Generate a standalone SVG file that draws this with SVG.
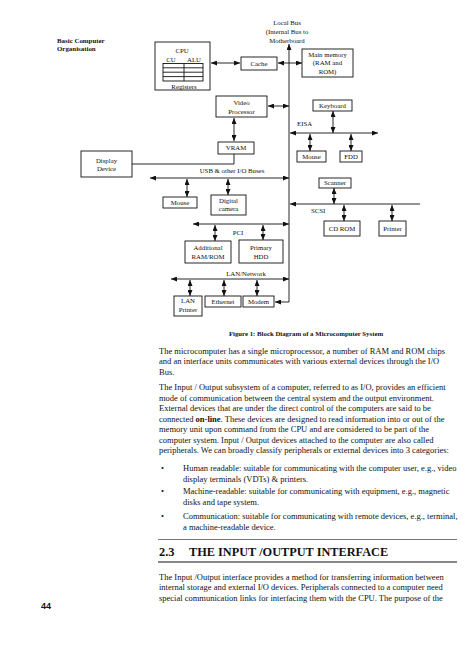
<svg xmlns="http://www.w3.org/2000/svg" width="474" height="667" viewBox="0 0 474 667">
<style>
.bx{fill:#fff;stroke:#111;stroke-width:0.9}
.ln{fill:none;stroke:#111;stroke-width:0.9}
.t{font-family:"Liberation Serif","Times New Roman",serif;font-size:6.8px;fill:#111;text-anchor:middle}
.ts{font-family:"Liberation Serif","Times New Roman",serif;font-size:6.8px;fill:#111}
.b{font-family:"Liberation Serif","Times New Roman",serif;font-size:8.5px;fill:#111}
.cap{font-family:"Liberation Serif","Times New Roman",serif;font-size:6.8px;font-weight:bold;fill:#111;text-anchor:middle}
.side{font-family:"Liberation Serif","Times New Roman",serif;font-size:6.9px;font-weight:bold;fill:#111}
.h{font-family:"Liberation Serif","Times New Roman",serif;font-size:12.3px;font-weight:bold;fill:#111}
</style>
<defs>
<marker id="ah" markerUnits="userSpaceOnUse" markerWidth="6" markerHeight="5" refX="6" refY="2.5" orient="auto-start-reverse">
<path d="M0,0 L6,2.5 L0,5 z" fill="#111"/>
</marker>
</defs>
<rect width="474" height="667" fill="#fff"/>

<text class="side" x="57" y="43">Basic Computer</text>
<text class="side" x="57" y="50.5">Organisation</text>

<g id="labels">
<text class="t" x="287" y="25">Local Bus</text>
<text class="t" x="287" y="34">(Internal Bus to</text>
<text class="t" x="287" y="43">Motherboard</text>
<text class="ts" x="297" y="126">EISA</text>
<text class="ts" x="311" y="213">SCSI</text>
<text class="t" x="232" y="173">USB &amp; other I/O Buses</text>
<text class="t" x="238" y="235">PCI</text>
<text class="t" x="246" y="276">LAN/Network</text>
</g>

<g id="connectors">
<path class="ln" d="M289,44 V302 H275" marker-start="url(#ah)" marker-end="url(#ah)"/>
<line class="ln" x1="211" y1="63" x2="240" y2="63" marker-start="url(#ah)" marker-end="url(#ah)"/>
<line class="ln" x1="278" y1="63" x2="302" y2="63" marker-start="url(#ah)" marker-end="url(#ah)"/>
<line class="ln" x1="268" y1="106" x2="289" y2="106" marker-start="url(#ah)" marker-end="url(#ah)"/>
<line class="ln" x1="234" y1="118" x2="234" y2="141" marker-start="url(#ah)" marker-end="url(#ah)"/>
<path class="ln" d="M132,164 H234 V154"/>
<line class="ln" x1="150" y1="178" x2="289" y2="178" marker-start="url(#ah)" marker-end="url(#ah)"/>
<line class="ln" x1="187" y1="179" x2="187" y2="197" marker-start="url(#ah)" marker-end="url(#ah)"/>
<line class="ln" x1="228" y1="179" x2="228" y2="195" marker-start="url(#ah)" marker-end="url(#ah)"/>
<line class="ln" x1="193" y1="224" x2="289" y2="224" marker-start="url(#ah)" marker-end="url(#ah)"/>
<line class="ln" x1="215" y1="225" x2="215" y2="241" marker-start="url(#ah)" marker-end="url(#ah)"/>
<line class="ln" x1="263" y1="225" x2="263" y2="240" marker-start="url(#ah)" marker-end="url(#ah)"/>
<line class="ln" x1="171" y1="279" x2="289" y2="279" marker-start="url(#ah)" marker-end="url(#ah)"/>
<line class="ln" x1="190" y1="280" x2="190" y2="296" marker-start="url(#ah)" marker-end="url(#ah)"/>
<line class="ln" x1="224" y1="280" x2="224" y2="296" marker-start="url(#ah)" marker-end="url(#ah)"/>
<line class="ln" x1="257" y1="280" x2="257" y2="296" marker-start="url(#ah)" marker-end="url(#ah)"/>
<line class="ln" x1="290" y1="133" x2="378" y2="133" marker-start="url(#ah)" marker-end="url(#ah)"/>
<line class="ln" x1="333" y1="111" x2="333" y2="133" marker-start="url(#ah)" marker-end="url(#ah)"/>
<line class="ln" x1="310" y1="134" x2="310" y2="151" marker-start="url(#ah)" marker-end="url(#ah)"/>
<line class="ln" x1="351" y1="134" x2="351" y2="151" marker-start="url(#ah)" marker-end="url(#ah)"/>
<line class="ln" x1="290" y1="204" x2="420" y2="204" marker-start="url(#ah)"/>
<line class="ln" x1="334" y1="188" x2="334" y2="204" marker-start="url(#ah)" marker-end="url(#ah)"/>
<line class="ln" x1="344" y1="205" x2="344" y2="221" marker-start="url(#ah)" marker-end="url(#ah)"/>
<line class="ln" x1="392" y1="205" x2="392" y2="221" marker-start="url(#ah)" marker-end="url(#ah)"/>
</g>

<g id="cpu">
<rect class="bx" x="155" y="42" width="55" height="48" stroke-width="1.2"/>
<text class="t" x="182" y="53">CPU</text>
<text class="t" x="171" y="62.3">CU</text>
<text class="t" x="194" y="62.3">ALU</text>
<rect class="bx" x="163" y="63.5" width="40" height="17.5"/>
<line class="ln" x1="184" y1="63.5" x2="184" y2="81"/>
<line class="ln" x1="163" y1="67.8" x2="203" y2="67.8"/>
<line class="ln" x1="163" y1="72.2" x2="203" y2="72.2"/>
<line class="ln" x1="163" y1="76.6" x2="203" y2="76.6"/>
<text class="t" x="184" y="88.5">Registers</text>
</g>
<g id="cache"><rect class="bx" x="241" y="57" width="36" height="13"/><text class="t" x="259" y="65.8">Cache</text></g>
<g id="mainmem"><rect class="bx" x="302" y="49" width="51" height="28"/>
<text class="t" x="327.5" y="57.3">Main memory</text><text class="t" x="327.5" y="65.3">(RAM and</text><text class="t" x="327.5" y="74.3">ROM)</text></g>
<g id="video"><rect class="bx" x="216" y="96" width="51" height="21"/>
<text class="t" x="241.5" y="105.3">Video</text><text class="t" x="241.5" y="114.3">Processor</text></g>
<g id="vram"><rect class="bx" x="218" y="142" width="36" height="12"/><text class="t" x="236" y="150.3">VRAM</text></g>
<g id="display"><rect class="bx" x="81" y="151" width="51" height="26"/>
<text class="t" x="106.5" y="163.3">Display</text><text class="t" x="106.5" y="171.3">Device</text></g>
<g id="keyboard"><rect class="bx" x="313" y="100" width="39" height="11"/><text class="t" x="332.5" y="107.8">Keyboard</text></g>
<g id="mouse2"><rect class="bx" x="297" y="151" width="29" height="11"/><text class="t" x="311.5" y="158.8">Mouse</text></g>
<g id="fdd"><rect class="bx" x="340" y="151" width="22" height="11"/><text class="t" x="351" y="158.8">FDD</text></g>
<g id="scanner"><rect class="bx" x="319" y="178" width="32" height="10"/><text class="t" x="335" y="185.3">Scanner</text></g>
<g id="cdrom"><rect class="bx" x="324" y="221" width="36" height="15"/><text class="t" x="342" y="230.8">CD ROM</text></g>
<g id="printer"><rect class="bx" x="379" y="221" width="27" height="15"/><text class="t" x="392.5" y="230.8">Printer</text></g>
<g id="mouse1"><rect class="bx" x="163" y="197" width="34" height="11"/><text class="t" x="180" y="204.8">Mouse</text></g>
<g id="camera"><rect class="bx" x="211" y="195" width="35" height="20"/>
<text class="t" x="228.5" y="203.3">Digital</text><text class="t" x="228.5" y="211.3">camera</text></g>
<g id="addram"><rect class="bx" x="185" y="241" width="46" height="22"/>
<text class="t" x="208" y="250.3">Additional</text><text class="t" x="208" y="259.3">RAM/ROM</text></g>
<g id="hdd"><rect class="bx" x="239" y="240" width="44" height="23"/>
<text class="t" x="261" y="250.3">Primary</text><text class="t" x="261" y="259.3">HDD</text></g>
<g id="lanprinter"><rect class="bx" x="174" y="296" width="28" height="20"/>
<text class="t" x="188" y="303.3">LAN</text><text class="t" x="188" y="312.3">Printer</text></g>
<g id="ethernet"><rect class="bx" x="205" y="296" width="36" height="11"/><text class="t" x="223" y="303.8">Ethernet</text></g>
<g id="modem"><rect class="bx" x="243" y="296" width="31" height="11"/><text class="t" x="258.5" y="303.8">Modem</text></g>

<text class="cap" x="306" y="336.3">Figure 1: Block Diagram of a Microcomputer System</text>

<g id="body">
<text class="b" x="159" y="353.8">The microcomputer has a single microprocessor, a number of RAM and ROM chips</text>
<text class="b" x="159" y="364.3">and an interface units communicates with various external devices through the I/O</text>
<text class="b" x="159" y="374.8">Bus.</text>
<text class="b" x="159" y="390.3">The Input / Output subsystem of a computer, referred to as I/O, provides an efficient</text>
<text class="b" x="159" y="400.8">mode of communication between the central system and the output environment.</text>
<text class="b" x="159" y="411.3">External devices that are under the direct control of the computers are said to be</text>
<text class="b" x="159" y="421.8">connected <tspan font-weight="bold">on-line</tspan>. These devices are designed to read information into or out of the</text>
<text class="b" x="159" y="432.3">memory unit upon command from the CPU and are considered to be part of the</text>
<text class="b" x="159" y="442.8">computer system. Input / Output devices attached to the computer are also called</text>
<text class="b" x="159" y="453.3">peripherals. We can broadly classify peripherals or external devices into 3 categories:</text>

<text class="b" x="161" y="471">•</text>
<text class="b" x="183" y="471">Human readable: suitable for communicating with the computer user, e.g., video</text>
<text class="b" x="183" y="481.5">display terminals (VDTs) &amp; printers.</text>
<text class="b" x="161" y="494">•</text>
<text class="b" x="183" y="494">Machine-readable: suitable for communicating with equipment, e.g., magnetic</text>
<text class="b" x="183" y="504.5">disks and tape system.</text>
<text class="b" x="161" y="519">•</text>
<text class="b" x="183" y="519">Communication: suitable for communicating with remote devices, e.g., terminal,</text>
<text class="b" x="183" y="529.5">a machine-readable device.</text>

<line x1="158" y1="539.5" x2="457" y2="539.5" stroke="#777" stroke-width="1.2"/>
<text class="h" x="159" y="555.5">2.3</text>
<text class="h" x="189" y="555.5">THE INPUT /OUTPUT INTERFACE</text>
<line x1="158" y1="562" x2="457" y2="562" stroke="#111" stroke-width="1.2"/>

<text class="b" x="159" y="579.8">The Input /Output interface provides a method for transferring information between</text>
<text class="b" x="159" y="590.3">internal storage and external I/O devices. Peripherals connected to a computer need</text>
<text class="b" x="159" y="600.8">special communication links for interfacing them with the CPU. The purpose of the</text>
</g>

<text x="41" y="609" font-family="Liberation Sans, Arial, sans-serif" font-size="9" font-weight="bold" fill="#111">44</text>
</svg>
